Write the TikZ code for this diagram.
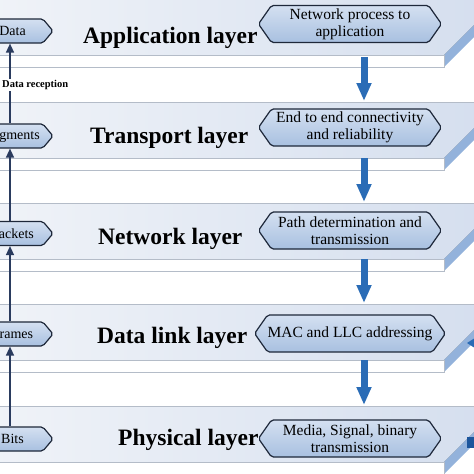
\documentclass[tikz,border=0pt]{standalone}
\usepackage{fontspec}
\setmainfont{Liberation Serif}
\usetikzlibrary{shapes.symbols,arrows.meta,calc}
\definecolor{facel}{HTML}{F0F3F8}
\definecolor{facer}{HTML}{D4DEEE}
\definecolor{edgegray}{HTML}{B4BCC8}
\definecolor{sideblue}{HTML}{93B2DB}
\definecolor{boxtop}{HTML}{D4E0F1}
\definecolor{boxbot}{HTML}{A8C0E0}
\definecolor{boxline}{HTML}{1E283A}
\definecolor{navy}{HTML}{2A3B5E}
\definecolor{flowblue}{HTML}{2A6CB6}
\definecolor{flowdark}{HTML}{1D569C}
\newcommand\layerslab[1]{%
  \fill[left color=facel,right color=facer] (-10,#1) -- (500,#1) -- (444,#1+56) -- (-10,#1+56) -- cycle;
  \draw[edgegray,line width=0.8pt] (-10,#1) -- (500,#1);
  \fill[sideblue] (444,#1+56) -- (500,#1) -- (500,#1+12) -- (444,#1+68) -- cycle;
  \filldraw[fill=white,draw=edgegray,line width=0.8pt] (-10,#1+56) rectangle (444,#1+68);
}
\begin{document}
\begin{tikzpicture}[x=1pt,y=-1pt,
  hexbox/.style={shape=signal, signal to=east and west, signal pointer angle=110,
    draw=boxline, line width=1.2pt, top color=boxtop, bottom color=boxbot,
    rounded corners=2pt, inner sep=0pt, align=center,
    minimum width=183pt, minimum height=37pt,
    font=\fontsize{15.5}{17}\selectfont},
  lbox/.style={hexbox, minimum width=81pt, minimum height=24pt, signal pointer angle=100,
    font=\fontsize{14}{16}\selectfont},
  title/.style={font=\fontsize{23.5}{26}\selectfont\bfseries, inner sep=0pt, anchor=base west},
  uparrow/.style={navy, line width=1.4pt, -{Triangle[width=8pt,length=9pt]}},
  flowarrow/.style={flowblue, line width=7pt, -{Triangle[width=14pt,length=18pt]}},
]
\useasboundingbox (0,0) rectangle (474,474);
\clip (0,0) rectangle (474,474);
\layerslab{-1}
\layerslab{102}
\layerslab{203}
\layerslab{304}
\layerslab{406}

% layer titles
\node[title] (tapp) at (83,43) {Application layer};
\node[title] (ttra) at (90,143.5) {Transport layer};
\node[title] (tnet) at (98,244) {Network layer};
\node[title] (tdl)  at (97,343) {Data link layer};
\node[title] (tphy) at (118,445) {Physical layer};

% right boxes
\node[hexbox] (rapp) at (350,24) {Network process to\\application};
\node[hexbox] (rtra) at (350,127.5) {End to end connectivity\\and reliability};
\node[hexbox] (rnet) at (350,230.5) {Path determination and\\transmission};
\node[hexbox] (rdl)  at (350,333.5) {MAC and LLC addressing};
\node[hexbox] (rphy) at (350,438.5) {Media, Signal, binary\\transmission};

% blue flow arrows
\coordinate (f1s) at (364,57);  \coordinate (f1e) at (364,101);
\coordinate (f2s) at (364,158); \coordinate (f2e) at (364,202);
\coordinate (f3s) at (364,259); \coordinate (f3e) at (364,303);
\coordinate (f4s) at (364,360); \coordinate (f4e) at (364,405);
\draw[flowarrow] (f1s) -- (f1e);
\draw[flowarrow] (f2s) -- (f2e);
\draw[flowarrow] (f3s) -- (f3e);
\draw[flowarrow] (f4s) -- (f4e);

% fragments at right edge
\fill[flowblue] (467,343) -- (478,336) -- (478,350) -- cycle;
\fill[flowdark] (467,437) rectangle (480,448);

% left boxes
\node[lbox] (ldata) at (12.5,31) {Data};
\node[lbox] (lseg)  at (12.5,136) {Segments};
\node[lbox] (lpac)  at (12.5,233.5) {Packets};
\node[lbox] (lfra)  at (12.5,334) {Frames};
\node[lbox] (lbit)  at (12.5,439) {Bits};

\coordinate (lx) at (10,0);
\draw[uparrow] (lseg.north -| lx) -- (ldata.south -| lx);
\draw[uparrow] (lpac.north -| lx) -- (lseg.south -| lx);
\draw[uparrow] (lfra.north -| lx) -- (lpac.south -| lx);
\draw[uparrow] (lbit.north -| lx) -- (lfra.south -| lx);

\node[font=\fontsize{10.5}{12}\selectfont\bfseries, fill=white, inner sep=1pt, anchor=west] (drec) at (1,85) {Data reception};
\end{tikzpicture}
\end{document}
